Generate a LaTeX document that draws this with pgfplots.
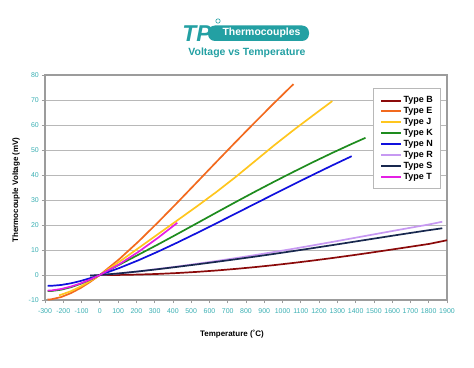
\documentclass[border=0pt]{standalone}
\usepackage{pgfplots}
\pgfplotsset{compat=1.18}
\usepackage{fontspec}
\setmainfont{Liberation Sans}
\definecolor{tealT}{HTML}{23A0A3}
\definecolor{tealL}{HTML}{3AAFB3}
\definecolor{gridc}{HTML}{B8B8B8}
\definecolor{axc}{HTML}{9C9C9C}
\definecolor{cB}{HTML}{8B0A0A}
\definecolor{cE}{HTML}{F26A1E}
\definecolor{cJ}{HTML}{FFC61E}
\definecolor{cK}{HTML}{1E8C1E}
\definecolor{cN}{HTML}{1010DD}
\definecolor{cR}{HTML}{C799F2}
\definecolor{cS}{HTML}{18284F}
\definecolor{cT}{HTML}{E41FE4}
\begin{document}
\begin{tikzpicture}
\useasboundingbox (-45bp,-68bp) rectangle (429bp,300bp);
\begin{axis}[
  at={(0,0)}, anchor=south west,
  scale only axis, width=402bp, height=225bp,
  xmin=-300, xmax=1900, ymin=-10, ymax=80,
  xtick={-300,-200,...,1900}, ytick={-10,0,...,80},
  ymajorgrids, major grid style={gridc, line width=0.8bp},
  axis line style={axc, line width=1.1bp},
  tick style={axc, line width=0.8bp},
  tick align=outside, major tick length=3bp,
  xtick pos=bottom, ytick pos=left,
  /pgf/number format/assume math mode=true,
  /pgf/number format/set thousands separator={},
  ticklabel style={font=\fontsize{7}{8}\selectfont, text=tealL},
  xticklabel style={inner sep=1pt, yshift=-4bp},
  yticklabel style={inner sep=1pt, xshift=-2bp},
  xlabel={Temperature (˚C)},
  ylabel={Thermocouple Voltage (mV)},
  label style={font=\fontsize{8}{9}\selectfont\bfseries, text=black},
  xlabel style={at={(axis description cs:0.465,0)}, anchor=center, yshift=-34bp},
  ylabel style={at={(axis description cs:0,0.489)}, anchor=center, yshift=29bp},
  legend style={at={(axis description cs:0.985,0.942)}, anchor=north east,
    draw=gridc, line width=0.8bp, fill=white,
    font=\fontsize{9}{10}\selectfont\bfseries,
    row sep=0.6bp, inner xsep=6.5bp, inner ysep=7bp,
    nodes={inner sep=1.3bp}},
  legend cell align=left,
  legend image code/.code={\draw[#1, line width=2bp] (0bp,0bp) -- (20bp,0bp);},
]
% Type B
\addplot[cB, line width=1.7bp] coordinates {(0,0) (106,0.033) (212,0.178) (318,0.431) (424,0.787) (530,1.242) (636,1.792) (742,2.431) (848,3.154) (954,3.957) (1060,4.834) (1166,5.780) (1272,6.786) (1378,7.848) (1484,8.956) (1590,10.099) (1696,11.263) (1802,12.433) (1900,13.9)};
\addlegendentry{Type B}
% Type E
\addplot[cE, line width=1.7bp] coordinates {(-286,-9.835) (-265,-9.718) (-212,-8.825) (-159,-7.279) (-106,-5.237) (-53,-2.787) (0,0) (106,6.319) (212,13.421) (318,21.036) (424,28.946) (530,36.999) (636,45.093) (742,53.112) (848,61.017) (954,68.787) (1060,76.373)};
\addlegendentry{Type E}
% Type J
\addplot[cJ, line width=1.7bp] coordinates {(-223,-8.095) (-212,-7.890) (-159,-6.500) (-106,-4.633) (-53,-2.431) (0,0) (106,5.269) (212,10.779) (318,16.327) (424,21.848) (530,27.393) (636,33.102) (742,39.132) (848,45.494) (954,51.877) (1060,57.953) (1166,63.792) (1272,69.553)};
\addlegendentry{Type J}
% Type K
\addplot[cK, line width=1.7bp] coordinates {(-286,-6.458) (-265,-6.404) (-212,-5.891) (-159,-4.913) (-106,-3.554) (-53,-1.889) (0,0) (106,4.096) (212,8.138) (318,12.209) (424,16.397) (530,20.644) (636,24.905) (742,29.129) (848,33.275) (954,37.326) (1060,41.276) (1166,45.119) (1272,48.838) (1378,52.410) (1454,54.886)};
\addlegendentry{Type K}
% Type N
\addplot[cN, line width=1.7bp] coordinates {(-286,-4.345) (-265,-4.313) (-212,-3.990) (-159,-3.336) (-106,-2.407) (-53,-1.269) (0,0) (106,2.774) (212,5.913) (318,9.341) (424,12.974) (530,16.748) (636,20.613) (742,24.527) (848,28.455) (954,32.371) (1060,36.256) (1166,40.087) (1272,43.846) (1378,47.513)};
\addlegendentry{Type N}
% Type R
\addplot[cR, line width=1.7bp] coordinates {(-53,-0.226) (0,0) (106,0.647) (212,1.469) (318,2.401) (424,3.408) (530,4.471) (636,5.583) (742,6.743) (848,7.950) (954,9.205) (1060,10.506) (1166,11.850) (1272,13.228) (1378,14.629) (1484,16.040) (1590,17.451) (1696,18.849) (1802,20.222) (1874,21.3)};
\addlegendentry{Type R}
% Type S
\addplot[cS, line width=1.7bp] coordinates {(-53,-0.236) (0,0) (106,0.646) (212,1.441) (318,2.323) (424,3.259) (530,4.233) (636,5.239) (742,6.275) (848,7.345) (954,8.449) (1060,9.587) (1166,10.757) (1272,11.951) (1378,13.159) (1484,14.373) (1590,15.582) (1696,16.777) (1802,17.947) (1874,18.693)};
\addlegendentry{Type S}
% Type T
\addplot[cT, line width=1.7bp] coordinates {(-286,-6.258) (-265,-6.181) (-212,-5.603) (-159,-4.648) (-106,-3.379) (-53,-1.819) (0,0) (106,4.279) (212,9.288) (318,14.862) (424,20.872)};
\addlegendentry{Type T}
\end{axis}
\begin{scope}[x=1bp,y=1bp]
\fill[tealT, rounded corners=7bp] (163,259) rectangle (264,274.5);
\node[text=white, font=\fontsize{10.5}{12}\selectfont\bfseries] at (216.5,266.8) {Thermocouples};
\node[text=tealT, font=\fontsize{23}{24}\selectfont\bfseries\itshape, inner sep=0pt] at (152,266) {TP};
\draw[tealT, line width=0.6bp] (173,279) circle (2.2bp);
\node[text=tealT, font=\fontsize{10.5}{12}\selectfont\bfseries] at (202,247) {Voltage vs Temperature};
\end{scope}
\end{tikzpicture}
\end{document}
